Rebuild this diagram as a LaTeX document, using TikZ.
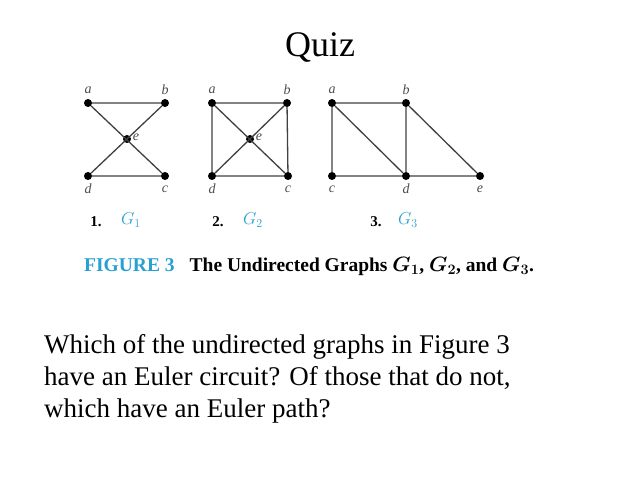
\documentclass[tikz,border=0pt]{standalone}
\usepackage{fontspec}
\setmainfont{Liberation Serif}
\definecolor{figblue}{RGB}{40,160,210}
\newcommand{\captxt}{\textcolor{figblue}{FIGURE 3}\hspace{15pt}The Undirected Graphs $G_1$, $G_2$, and $G_3$.}
\begin{document}
\begin{tikzpicture}[x=1pt,y=-1pt,
  v/.style={circle,fill=black,inner sep=0pt,minimum size=8pt},
  e/.style={draw=black!75,line width=1.3pt},
  lab/.style={font=\fontsize{14}{14}\selectfont\itshape,text=black!70}]
\useasboundingbox (0,0) rectangle (638,478);
\node[font=\fontsize{36}{36}\selectfont] (title) at (320,48) {Quiz};
% G1
\node[v] (a1) at (88,103) {}; \node[v] (b1) at (165,103) {};
\node[v] (e1) at (127,139) {}; \node[v] (d1) at (88,176) {}; \node[v] (c1) at (165,176) {};
\draw[e] (a1)--(b1) (a1)--(c1) (b1)--(d1) (d1)--(c1);
\node[lab] (la1) at (88,90) {a}; \node[lab] (lb1) at (165,90) {b};
\node[lab] (le1) at (136,137) {e}; \node[lab] (ld1) at (88,189) {d}; \node[lab] (lc1) at (165,189) {c};
% G2
\node[v] (a2) at (212,103) {}; \node[v] (b2) at (287,103) {};
\node[v] (e2) at (250,139) {}; \node[v] (d2) at (212,176) {}; \node[v] (c2) at (288,176) {};
\draw[e] (a2)--(b2)--(c2)--(d2)--(a2) (a2)--(c2) (b2)--(d2);
\node[lab] (la2) at (212,90) {a}; \node[lab] (lb2) at (287,90) {b};
\node[lab] (le2) at (259,137) {e}; \node[lab] (ld2) at (212,189) {d}; \node[lab] (lc2) at (288,189) {c};
% G3
\node[v] (a3) at (332,103) {}; \node[v] (b3) at (406,103) {};
\node[v] (c3) at (332,176) {}; \node[v] (d3) at (406,176) {}; \node[v] (e3) at (480,176) {};
\draw[e] (a3)--(b3) (a3)--(c3) (a3)--(d3) (b3)--(d3) (b3)--(e3) (c3)--(d3)--(e3);
\node[lab] (la3) at (332,90) {a}; \node[lab] (lb3) at (406,90) {b};
\node[lab] (lc3) at (332,189) {c}; \node[lab] (ld3) at (406,189) {d}; \node[lab] (le3) at (480,189) {e};
% captions
\node[font=\fontsize{15}{15}\selectfont\bfseries] (n1) at (96,222) {1.};
\node[font=\fontsize{18}{18}\selectfont,text=figblue] (g1) at (131,220) {$G_1$};
\node[font=\fontsize{15}{15}\selectfont\bfseries] (n2) at (218,222) {2.};
\node[font=\fontsize{18}{18}\selectfont,text=figblue] (g2) at (253,220) {$G_2$};
\node[font=\fontsize{15}{15}\selectfont\bfseries] (n3) at (376,222) {3.};
\node[font=\fontsize{18}{18}\selectfont,text=figblue] (g3) at (408,220) {$G_3$};
\node[font=\fontsize{19.5}{19.5}\selectfont\bfseries\mathversion{bold},anchor=west,inner sep=0pt] (cap) at (84,266) {\captxt};
\node[font=\fontsize{27}{32}\selectfont,anchor=north west,align=left,inner sep=0pt] (q) at (44,334) {Which of the undirected graphs in Figure 3\\have an Euler circuit? Of those that do not,\\which have an Euler path?};
\end{tikzpicture}
\end{document}
